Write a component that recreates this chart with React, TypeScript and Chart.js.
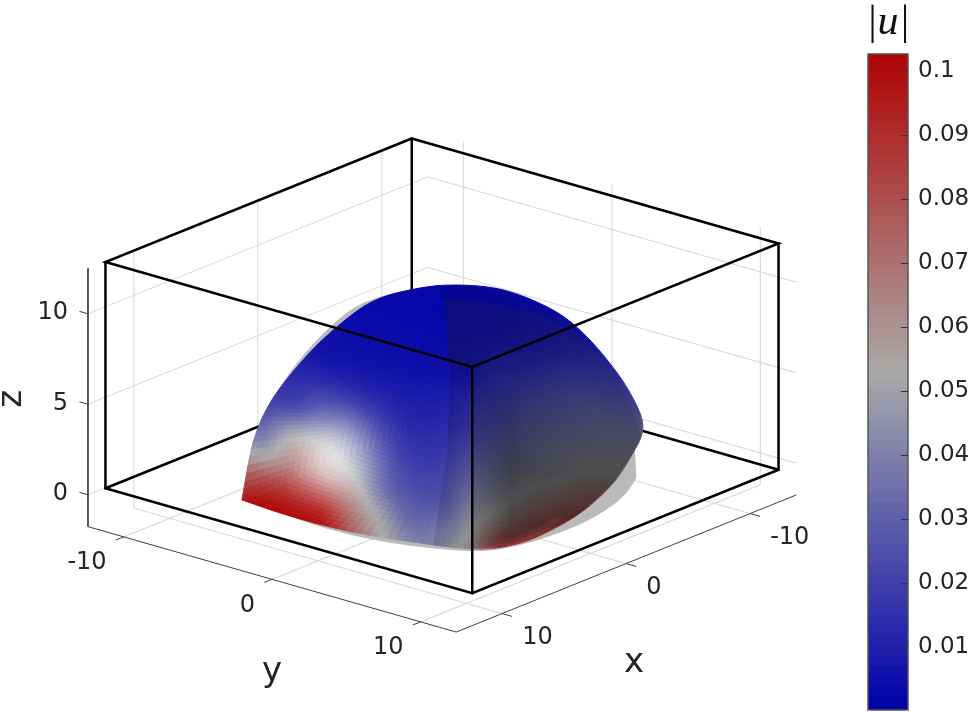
import React, { useEffect, useRef } from "react";
import { Chart, registerables } from "chart.js";

Chart.register(...registerables);

const FONT = '"DejaVu Sans"';
const TEXT = "#262626";

// Axis ticks and limits (data units)
const xTicks = [-10, 0, 10];
const yTicks = [-10, 0, 10];
const zTicks = [0, 5, 10];
const axisX = [-13.7, 13.7];
const axisY = [-12.4, 12.4];
const axisZ = [-1.76, 12.5];
const boxXY = [-12.35, 12.35];
const boxZ = [0, 12.5];

// Dome silhouette, read in the x = 0 plane
const domeY = [-13.47, -12.73, -11.58, -9.76, -7.54, -4.85, -2.15, 0.74, 4.11, 7.47, 9.76, 11.99, 13.33, 13.47, 12.86, 11.52, 9.29, 6.4, 4.11, 1.89, -1.48, -5.99, -10.03, -13.47];
const domeZ = [-4.32, -1.0, 1.48, 3.9, 6.3, 8.59, 9.94, 10.89, 11.41, 11.09, 10.14, 8.45, 6.78, 5.7, 4.46, 2.48, 0.3, -1.7, -2.79, -3.42, -3.88, -4.34, -4.45, -4.32];
const poleY = 0.2;
const poleZ = 3.31;

// Grey reference surface behind the dome
const shellY = [-12.12, -11.11, -9.76, -7.54, -5.32, -2.15, 0.54, 7.95, 12.32, 13.06, 12.79, 11.78, 9.76, 7.47, 5.25, 2.56, -1.48, -5.52, -9.56, -11.58, -12.39];
const shellZ = [0.14, 2.14, 4.12, 6.63, 8.47, 9.94, 10.46, 9.55, 6.15, 3.56, 2.67, 1.5, -0.03, -1.34, -2.41, -3.38, -4.1, -4.5, -4.51, -3.88, -1.86];

// Translucent layers on the right of the dome
const layerAY = [-0.27, 0.74, 4.11, 7.47, 9.76, 11.99, 13.33, 13.47, 12.86, 11.52, 9.29, 6.4, 4.11, 1.89, -0.61, 0.34, 0.54, 0.07];
const layerAZ = [10.54, 10.89, 11.41, 11.09, 10.14, 8.45, 6.78, 5.7, 4.46, 2.48, 0.3, -1.7, -2.79, -3.42, -3.84, 1.52, 6.15, 9.91];
const layerBY = [0.07, 3.03, 6.4, 9.09, 11.52, 12.86, 13.4, 12.86, 11.52, 9.29, 6.4, 4.11, 1.95, 1.95, 0.54];
const layerBZ = [10.02, 10.49, 10.67, 10.2, 8.72, 6.83, 5.47, 4.46, 2.48, 0.3, -1.7, -2.79, -3.41, 6.65, 6.31];

// |u| x 1000 on a (y, z) lattice
const fieldY = [-14, -12, -10, -8, -6, -4, -2, 0, 2, 4, 6, 8, 10, 12, 14];
const fieldZ = [12, 10.5, 9, 7.5, 6, 4.5, 3, 1.5, 0, -1.5, -3, -4.5];
const fieldU = [
  [2, 2, 2, 2, 2, 2, 2, 2, 2, 2, 3, 3, 3, 3, 3],
  [2, 2, 2, 2, 2, 2, 2, 2, 2, 2, 3, 4, 4, 5, 5],
  [3, 3, 3, 3, 2, 2, 2, 2, 2, 3, 5, 8, 11, 13, 15],
  [4, 4, 4, 4, 3, 3, 3, 3, 4, 7, 10, 16, 19, 21, 23],
  [5, 5, 5, 5, 4, 4, 4, 5, 7, 13, 19, 25, 30, 33, 36],
  [8, 8, 8, 7, 7, 7, 7, 9, 14, 19, 28, 34, 39, 43, 46],
  [15, 15, 14, 16, 15, 13, 11, 13, 19, 27, 37, 44, 51, 56, 60],
  [20, 20, 22, 28, 27, 20, 15, 17, 27, 37, 48, 56, 68, 75, 80],
  [30, 33, 50, 52, 40, 26, 20, 22, 36, 47, 62, 75, 84, 88, 90],
  [50, 52, 70, 72, 56, 34, 26, 28, 46, 62, 80, 90, 90, 90, 90],
  [74, 84, 92, 92, 68, 48, 34, 40, 58, 88, 98, 95, 90, 90, 90],
  [96, 102, 102, 100, 75, 54, 44, 45, 70, 98, 98, 95, 90, 90, 90],
];

// Colour bar
const barTicks = [0.01, 0.02, 0.03, 0.04, 0.05, 0.06, 0.07, 0.08, 0.09, 0.1];
const barMin = 0.0001;
const barMax = 0.1026;
const barLevels = 64;
const midU = 0.0525;

type P = { x: number; y: number };

// Orthographic view of the axes
const project = (x: number, y: number, z: number): P => ({
  x: -12.4 * x + 14.85 * y,
  y: 5 * x + 4.25 * y - 18.1 * z,
});

function colormap(u: number): number[] {
  const t = Math.max(0, Math.min(barMax, u));
  if (t < midU) {
    const k = t / midU;
    return [170 * k, 170 * k, 170];
  }
  const k = (t - midU) / (barMax - midU);
  return [170 + 5 * k, 170 * (1 - k), 170 * (1 - k)];
}

const rgb = (c: number[]) => `rgb(${c.map((v) => Math.round(v)).join(",")})`;
const clamp01 = (v: number) => Math.max(0, Math.min(1, v));

// Catmull-Rom weights for smooth shading between the lattice nodes
const cubic = (p0: number, p1: number, p2: number, p3: number, t: number) =>
  0.5 * (2 * p1 + (p2 - p0) * t + (2 * p0 - 5 * p1 + 4 * p2 - p3) * t * t + (3 * p1 - p0 - 3 * p2 + p3) * t * t * t);

function fieldAt(y: number, z: number): number {
  const cy = Math.max(0, Math.min(fieldY.length - 1.001, (y - fieldY[0]) / 2));
  const cz = Math.max(0, Math.min(fieldZ.length - 1.001, (fieldZ[0] - z) / 1.5));
  const i = Math.floor(cy);
  const j = Math.floor(cz);
  const a = cy - i;
  const b = cz - j;
  const row = (r: number) => {
    const line = fieldU[Math.max(0, Math.min(fieldU.length - 1, r))];
    const c = (k: number) => line[Math.max(0, Math.min(line.length - 1, k))];
    return cubic(c(i - 1), c(i), c(i + 1), c(i + 2), a);
  };
  return cubic(row(j - 1), row(j), row(j + 1), row(j + 2), b) / 1000;
}

function smoothClosed(ys: number[], zs: number[], sub: number) {
  const n = ys.length - 1;
  const out: { y: number; z: number }[] = [];
  const at = (arr: number[], k: number) => arr[((k % n) + n) % n];
  for (let i = 0; i < n; i++) {
    for (let s = 0; s < sub; s++) {
      const t = s / sub;
      const cr = (arr: number[]) => {
        const p0 = i === 0 ? arr[0] : at(arr, i - 1);
        const p1 = at(arr, i);
        const p2 = at(arr, i + 1);
        const p3 = i === n - 1 ? arr[0] : at(arr, i + 2);
        return cubic(p0, p1, p2, p3, t);
      };
      out.push({ y: cr(ys), z: cr(zs) });
    }
  }
  out.push(out[0]);
  return out;
}

function polygon(points: P[], fill: string, order: number, stroke = false) {
  return {
    data: points,
    showLine: true,
    pointRadius: 0,
    borderWidth: stroke ? 1 : 0,
    borderColor: stroke ? fill : "rgba(0,0,0,0)",
    backgroundColor: fill,
    fill: "shape",
    tension: 0,
    order,
    clip: false,
  };
}

function segment(points: P[], color: string, width: number, order: number) {
  return {
    data: points,
    showLine: true,
    pointRadius: 0,
    borderWidth: width,
    borderColor: color,
    backgroundColor: color,
    fill: false,
    tension: 0,
    borderCapStyle: "round",
    borderJoinStyle: "miter",
    order,
    clip: false,
  };
}

function buildMain() {
  const sets: any[] = [];
  const GRID = "#dcdcdc";
  const [x0, x1] = axisX;
  const [y0, y1] = axisY;
  const [z0, z1] = axisZ;

  // grid
  for (const z of zTicks) {
    sets.push(segment([project(x0, y1, z), project(x0, y0, z), project(x1, y0, z)], GRID, 1.2, 100));
  }
  for (const y of yTicks) {
    sets.push(segment([project(x0, y, z1), project(x0, y, z0), project(x1, y, z0)], GRID, 1.2, 100));
  }
  for (const x of xTicks) {
    sets.push(segment([project(x, y0, z1), project(x, y0, z0), project(x, y1, z0)], GRID, 1.2, 100));
  }
  // thin axes
  const AX = "#404040";
  sets.push(segment([project(x1, y0, z1), project(x1, y0, z0), project(x1, y1, z0), project(x0, y1, z0)], AX, 1, 90));
  for (const y of yTicks) sets.push(segment([project(x1, y, z0), project(x1 + 0.6, y, z0)], AX, 1, 90));
  for (const x of xTicks) sets.push(segment([project(x, y1, z0), project(x, y1 + 0.65, z0)], AX, 1, 90));
  for (const z of zTicks) sets.push(segment([project(x1, y0, z), project(x1, y0 - 0.55, z)], AX, 1, 90));

  // thick box, back edges
  const [b0, b1] = boxXY;
  const [t0, t1] = boxZ;
  sets.push(segment([project(b1, b0, t0), project(b0, b0, t0), project(b0, b1, t0)], "#000", 2.5, 80));
  sets.push(segment([project(b0, b0, t0), project(b0, b0, t1)], "#000", 2.5, 80));

  // grey reference surface
  const shell = smoothClosed([...shellY, shellY[0]], [...shellZ, shellZ[0]], 4).map((p) => project(0, p.y, p.z));
  sets.push(polygon(shell, "rgb(186,186,186)", 70));

  // dome mesh
  const rim = smoothClosed(domeY, domeZ, 8);
  const rings = 32;
  const hl = project(0, -7.4, -0.7);
  for (let s = 0; s < rim.length - 1; s++) {
    const a = rim[s];
    const b = rim[s + 1];
    for (let r = 0; r < rings; r++) {
      const f0 = r / rings;
      const f1 = (r + 1) / rings;
      const node = (q: { y: number; z: number }, f: number) => ({
        y: poleY + (q.y - poleY) * f,
        z: poleZ + (q.z - poleZ) * f,
      });
      const n = [node(a, f0), node(b, f0), node(b, f1), node(a, f1)];
      const cy = (n[0].y + n[1].y + n[2].y + n[3].y) / 4;
      const cz = (n[0].z + n[1].z + n[2].z + n[3].z) / 4;
      const c = colormap(fieldAt(cy, cz));
      const pc = project(0, cy, cz);
      const d2 = (pc.x - hl.x) ** 2 + (pc.y - hl.y) ** 2;
      const g = 0.66 * Math.exp(-d2 / (2 * 28 * 28));
      // the lower right of the surface turns away from the light
      const rimGlow = Math.max(clamp01((0.985 - (f0 + f1) / 2) / 0.05), clamp01((pc.x - 95) / 30));
      const away = clamp01((pc.y + 99) / 90) * clamp01((pc.x - 28) / 40) * rimGlow;
      const shade = 1 - 0.4 * away;
      const col = c.map((v) => (v + (255 - v) * g) * shade);
      const pts = n.map((q) => project(0, q.y, q.z));
      sets.push(polygon([...pts, pts[0]], rgb(col), 60, true));
    }
  }

  // translucent layers
  const la = layerAY.map((y, i) => project(0, y, layerAZ[i]));
  sets.push(polygon([...la, la[0]], "rgba(0,0,0,0.13)", 50));
  const lb = layerBY.map((y, i) => project(0, y, layerBZ[i]));
  sets.push(polygon([...lb, lb[0]], "rgba(40,40,40,0.2)", 49));

  // thick box, front edges
  sets.push(segment([project(b0, b0, t1), project(b1, b0, t1), project(b1, b1, t1), project(b0, b1, t1), project(b0, b0, t1)], "#000", 2.5, 10));
  sets.push(segment([project(b1, b0, t0), project(b1, b1, t0), project(b0, b1, t0)], "#000", 2.5, 10));
  sets.push(segment([project(b1, b0, t0), project(b1, b0, t1)], "#000", 2.5, 10));
  sets.push(segment([project(b1, b1, t0), project(b1, b1, t1)], "#000", 2.5, 10));
  sets.push(segment([project(b0, b1, t0), project(b0, b1, t1)], "#000", 2.5, 10));
  return sets;
}

const axisText = {
  id: "axisText",
  afterDraw(chart: any) {
    const { ctx } = chart;
    const sx = chart.scales.x;
    const sy = chart.scales.y;
    const put = (p: P, dx: number, dy: number, s: string, align: CanvasTextAlign, size: number, rot = 0) => {
      ctx.save();
      ctx.translate(sx.getPixelForValue(p.x) + dx, sy.getPixelForValue(p.y) + dy);
      ctx.rotate(rot);
      ctx.font = `${size}px ${FONT}`;
      ctx.fillStyle = TEXT;
      ctx.textAlign = align;
      ctx.textBaseline = "middle";
      ctx.fillText(s, 0, 0);
      ctx.restore();
    };
    const x1 = axisX[1];
    const [y0, y1] = axisY;
    const z0 = axisZ[0];
    for (const y of yTicks) put(project(x1, y, z0), -17, 26, String(y), "right", 24);
    for (const x of xTicks) put(project(x, y1, z0), 20, 24, String(x), "left", 24);
    for (const z of zTicks) put(project(x1, y0, z), -20, -1, String(z), "right", 24);
    put(project(x1, 0, z0), 0, 93, "y", "center", 34);
    put(project(0, y1, z0), 8, 100, "x", "center", 34);
    put(project(x1, y0, 5.3), -76, 0, "z", "center", 34, -Math.PI / 2);
  },
};

const barDecor = {
  id: "barDecor",
  afterDraw(chart: any) {
    const { ctx, chartArea: a } = chart;
    const sy = chart.scales.y;
    ctx.save();
    ctx.strokeStyle = "#555";
    ctx.lineWidth = 1.5;
    ctx.strokeRect(a.left, a.top, a.right - a.left, a.bottom - a.top);
    ctx.strokeStyle = "#333";
    ctx.lineWidth = 1;
    for (const t of barTicks) {
      const y = Math.round(sy.getPixelForValue(t)) + 0.5;
      ctx.beginPath();
      ctx.moveTo(a.right - 7, y);
      ctx.lineTo(a.right, y);
      ctx.stroke();
    }
    ctx.fillStyle = "#111";
    ctx.font = 'italic 42px "Liberation Serif"';
    ctx.textAlign = "center";
    ctx.textBaseline = "middle";
    ctx.fillText("|u|", (a.left + a.right) / 2, 23);
    ctx.restore();
  },
};

export default function App() {
  const mainRef = useRef<HTMLCanvasElement>(null);
  const barRef = useRef<HTMLCanvasElement>(null);

  useEffect(() => {
    document.body.style.margin = "0";
    document.body.style.background = "#fff";
    const main = new Chart(mainRef.current as HTMLCanvasElement, {
      type: "scatter",
      data: { datasets: buildMain() },
      options: {
        responsive: false,
        animation: false,
        events: [],
        layout: { padding: 0, autoPadding: false },
        plugins: { legend: { display: false }, tooltip: { enabled: false } },
        scales: {
          x: { type: "linear", display: false, min: -442, max: 527 },
          y: { type: "linear", display: false, min: -479, max: 233, reverse: true },
        },
      },
      plugins: [axisText],
    } as any);

    const step = (barMax - barMin) / barLevels;
    const levelDatasets = Array.from({ length: barLevels }, (_, i) => {
      const lo = barMin + i * step;
      const c = rgb(colormap(lo + step / 2));
      return { data: [[lo, lo + step * 1.25]], backgroundColor: c, borderWidth: 0 };
    });
    const bar = new Chart(barRef.current as HTMLCanvasElement, {
      type: "bar",
      data: { labels: ["|u|"], datasets: levelDatasets },
      options: {
        responsive: false,
        animation: false,
        events: [],
        layout: { padding: { left: 28, top: 54, bottom: 2, right: 0 }, autoPadding: false },
        plugins: { legend: { display: false }, tooltip: { enabled: false } },
        datasets: { bar: { barPercentage: 1, categoryPercentage: 1, grouped: false } },
        scales: {
          x: { display: false },
          y: {
            position: "right",
            min: barMin,
            max: barMax,
            grid: { display: false, drawTicks: false },
            border: { display: false },
            afterFit: (s: any) => {
              s.width = 61;
              s.paddingTop = 0;
              s.paddingBottom = 0;
            },
            afterBuildTicks: (s: any) => {
              s.ticks = barTicks.map((value) => ({ value }));
            },
            ticks: {
              padding: 10,
              color: TEXT,
              font: { family: FONT, size: 23 },
              autoSkip: false,
              callback: (v: any) => String(Number(v)),
            },
          },
        },
      },
      plugins: [barDecor],
    } as any);

    return () => {
      main.destroy();
      bar.destroy();
    };
  }, []);

  return (
    <div style={{ position: "relative", width: 969, height: 712, overflow: "hidden" }}>
      <canvas ref={mainRef} width={969} height={712} style={{ position: "absolute", left: 0, top: 0 }} />
      <canvas ref={barRef} width={129} height={712} style={{ position: "absolute", left: 840, top: 0 }} />
    </div>
  );
}
